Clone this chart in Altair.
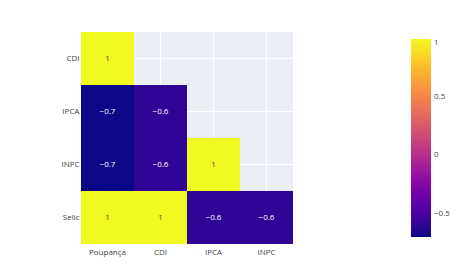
import altair as alt
import pandas as pd

cols = ["Poupança", "CDI", "IPCA", "INPC"]
rows = ["CDI", "IPCA", "INPC", "Selic"]
# lower-triangular correlation values (None = masked)
row_cdi = [1.0, None, None, None]
row_ipca = [-0.7, -0.6, None, None]
row_inpc = [-0.7, -0.6, 1.0, None]
row_selic = [1.0, 1.0, -0.6, -0.6]
matrix = [row_cdi, row_ipca, row_inpc, row_selic]
legend_ticks = [1, 0.5, 0, -0.5]

records = []
for r, vals in zip(rows, matrix):
    for c, v in zip(cols, vals):
        if v is not None:
            records.append({"row": r, "col": c, "value": v})
df = pd.DataFrame(records)

FONT = "Open Sans"

xaxis = alt.Axis(grid=True, gridColor="white", gridWidth=1, bandPosition=0.5,
                 ticks=False, domain=False, labelAngle=0, labelPadding=4, zindex=0)
yaxis = alt.Axis(grid=True, gridColor="white", gridWidth=1, bandPosition=0.5,
                 ticks=False, domain=False, labelPadding=2, zindex=0)

x = alt.X("col:N", sort=cols, title=None,
          scale=alt.Scale(domain=cols, paddingInner=0, paddingOuter=0), axis=xaxis)
y = alt.Y("row:N", sort=rows, title=None,
          scale=alt.Scale(domain=rows, paddingInner=0, paddingOuter=0), axis=yaxis)

rect = alt.Chart(df).mark_rect().encode(
    x=x, y=y,
    color=alt.Color("value:Q",
                    scale=alt.Scale(scheme="plasma", domain=[-0.7, 1]),
                    legend=alt.Legend(title=None, orient="none", legendX=330, legendY=7,
                                      direction="vertical", gradientLength=198,
                                      gradientThickness=20, gradientStrokeWidth=0,
                                      values=legend_ticks, format=".1~f",
                                      labelFontSize=8, labelColor="#444",
                                      labelFont=FONT, labelOffset=3, padding=0)),
)

text = alt.Chart(df).mark_text(fontSize=8, font=FONT).encode(
    x=x, y=y,
    text=alt.Text("value:Q", format=".1~f"),
    color=alt.condition("datum.value > 0.2", alt.value("#444444"), alt.value("#ffffff")),
)

chart = (rect + text).properties(
    width=212, height=212,
    autosize=alt.AutoSizeParams(type="none"),
    padding={"left": 81, "top": 32, "right": 181, "bottom": 24},
    background="white",
).configure_view(fill="#EBEEF4", stroke=None).configure_axis(
    labelFontSize=8, labelColor="#444444", labelFont=FONT
)

chart.save("out.html", embed_options={"renderer": "svg", "actions": False})
